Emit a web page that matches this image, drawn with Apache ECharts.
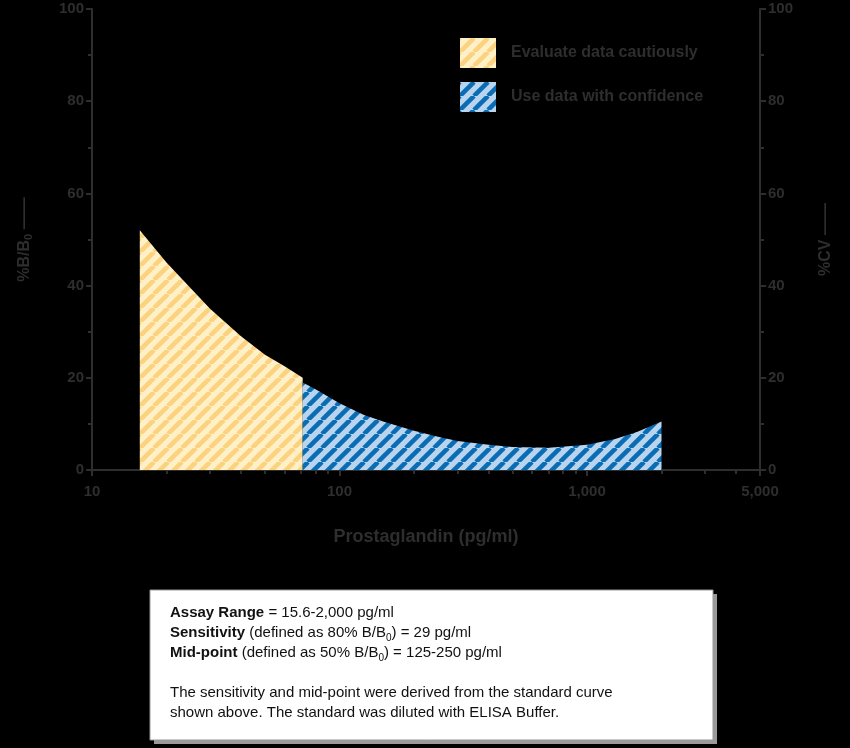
<!DOCTYPE html>
<html><head><meta charset="utf-8">
<script src="https://cdn.jsdelivr.net/npm/echarts@6/dist/echarts.min.js"></script>
<style>html,body{margin:0;background:#000}#c{width:850px;height:748px}</style>
</head><body><div id="c"></div>
<script>
const cautiousX = [15.6, 20, 25, 30, 40, 50, 60, 71];
const cautiousY = [52, 45, 39.5, 35, 29, 25, 22.5, 20];
const confidentX = [71, 80, 100, 125, 150, 200, 250, 300, 400, 500, 700, 1000, 1300, 1600, 2000];
const confidentY = [19, 17.5, 14.5, 12, 10.5, 8.5, 7.2, 6.3, 5.5, 5, 4.8, 5.5, 6.7, 8.3, 10.5];
const yTicks = [0, 20, 40, 60, 80, 100];

function stripes(bg, fg){
  const c = document.createElement('canvas'); c.width = 14; c.height = 14;
  const g = c.getContext('2d');
  g.fillStyle = bg; g.fillRect(0,0,14,14);
  g.strokeStyle = fg; g.lineWidth = 4.5;
  for (let k=-14;k<=28;k+=14){ g.beginPath(); g.moveTo(k,14); g.lineTo(k+14,0); g.stroke(); }
  return {image: c, repeat: 'repeat'};
}
const yellow = stripes('#fff0c8', '#fbd27e');
const blue = stripes('#b8d4ee', '#0a6db4');
const font = "'Liberation Sans Narrow','Liberation Sans',Arial,sans-serif";
const txt = '#2e2e2e';

const chart = echarts.init(document.getElementById('c'));
const yAxisBase = {
  type:'value', min:0, max:100, interval:20,
  axisLine:{show:true, lineStyle:{color:txt, width:2}},
  axisTick:{show:true, length:6, lineStyle:{color:txt, width:2}},
  minorTick:{show:true, splitNumber:2, length:4, lineStyle:{color:txt, width:2}},
  splitLine:{show:false},
  axisLabel:{color:txt, fontSize:15, fontFamily:font, fontWeight:'bold'},
  nameLocation:'middle', nameGap:58,
  nameTextStyle:{color:txt, fontSize:16, fontFamily:font, fontWeight:'bold', rich:{
    n:{color:txt, fontSize:16, fontFamily:font, fontWeight:'bold'},
    s:{color:txt, fontSize:11, fontFamily:font, fontWeight:'bold', verticalAlign:'bottom', padding:[8,0,0,0]}}}
};
chart.setOption({
  backgroundColor:'#000',
  animation:false,
  grid:{left:92, right:90, top:9, bottom:278},
  legend:{
    orient:'vertical', left:455, top:33, itemWidth:36, itemHeight:30, itemGap:14,
    icon:'rect',
    textStyle:{color:txt, fontSize:16, fontFamily:font, fontWeight:'bold', padding:[0,0,0,10]},
    data:['Evaluate data cautiously','Use data with confidence']
  },
  xAxis:{
    type:'log', min:10, max:5000, logBase:10,
    axisLine:{lineStyle:{color:txt, width:2}},
    axisTick:{length:6, lineStyle:{color:txt, width:2}},
    minorTick:{show:true, splitNumber:9, length:4, lineStyle:{color:txt, width:2}},
    splitLine:{show:false},
    axisLabel:{color:txt, fontSize:15, fontFamily:font, fontWeight:'bold', margin:14,
      formatter:v=>v>=1000?echarts.format.addCommas(v):String(v)},
    name:'Prostaglandin (pg/ml)', nameLocation:'middle', nameGap:58,
    nameTextStyle:{color:txt, fontSize:18, fontFamily:font, fontWeight:'bold'}
  },
  yAxis:[
    Object.assign({}, yAxisBase, {position:'left', name:'{n|%B/B}{s|0}{n| ——}'}),
    Object.assign({}, yAxisBase, {position:'right', name:'{n|%CV ——}', nameRotate:90})
  ],
  series:[
    {name:'Evaluate data cautiously', type:'line', symbol:'none', lineStyle:{width:0},
     itemStyle:{color:yellow}, areaStyle:{color:yellow, opacity:1},
     data:cautiousX.map((x,i)=>[x,cautiousY[i]])},
    {name:'Use data with confidence', type:'line', symbol:'none', lineStyle:{width:0},
     itemStyle:{color:blue}, areaStyle:{color:blue, opacity:1},
     data:confidentX.map((x,i)=>[x,confidentY[i]])}
  ],
  graphic:[
    {type:'rect', shape:{x:154, y:594, width:563, height:150}, style:{fill:'#9a9a9a'}},
    {type:'rect', shape:{x:150, y:590, width:563, height:150}, style:{fill:'#fff', stroke:'#999', lineWidth:1}},
    {type:'text', left:170, top:603, style:{
      text:'{b|Assay Range} = 15.6-2,000 pg/ml\n{b|Sensitivity} (defined as 80% B/B{s|0}) = 29 pg/ml\n{b|Mid-point} (defined as 50% B/B{s|0}) = 125-250 pg/ml\n\nThe sensitivity and mid-point were derived from the standard curve\nshown above. The standard was diluted with ELISA Buffer.',
      fill:'#111', fontSize:15, fontFamily:"'Liberation Sans',Arial,sans-serif", lineHeight:20,
      rich:{b:{fontWeight:'bold', fontSize:15, fill:'#111', fontFamily:"'Liberation Sans',Arial,sans-serif"},
            s:{fontSize:10, fill:'#111', verticalAlign:'bottom', padding:[8,0,0,0]}}
    }}
  ]
});
</script></body></html>
